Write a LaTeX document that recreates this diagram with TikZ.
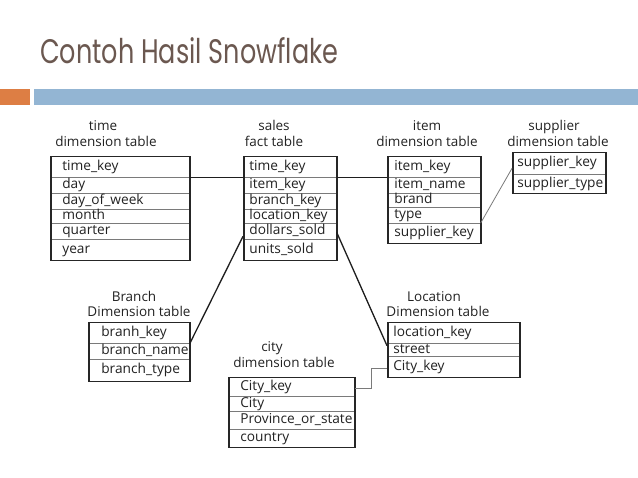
\documentclass[tikz,border=0pt]{standalone}
\usepackage{fontspec}
\setmainfont{Open Sans}
\newfontfamily\titlefont{Poppins}
\definecolor{titlecol}{HTML}{6B5850}
\definecolor{orangebar}{HTML}{DD7E44}
\definecolor{bluebar}{HTML}{93B5D3}
\definecolor{txtcol}{HTML}{222222}
\definecolor{divgray}{HTML}{7A7A7A}
\definecolor{boxcol}{HTML}{262626}
\definecolor{linecol}{HTML}{1E1E1E}
\tikzset{
  rowbox/.style={draw=divgray, line width=0.7pt, anchor=north west, inner ysep=0pt,
    align=left, text height=9.5pt, text depth=3pt,
    font=\fontsize{13.7}{15}\selectfont, text=txtcol},
  outerbox/.style={draw=boxcol, line width=1.5pt, inner sep=0pt, anchor=north west},
  hdr/.style={align=center, font=\fontsize{13.5}{15.5}\selectfont, text=txtcol, inner sep=0pt},
  link/.style={draw=linecol, line width=1.3pt},
  thinlink/.style={draw=divgray, line width=0.8pt}
}
\begin{document}
\begin{tikzpicture}[x=1pt,y=-1pt]
\useasboundingbox[fill=white] (0,0) rectangle (638,478);
% title and bar
\node[anchor=base west, inner sep=0pt, text=titlecol] (title) at (40,64)
  {\resizebox{298pt}{26pt}{\titlefont Contoh Hasil Snowflake}};
\fill[orangebar] (0,89) rectangle (30,105);
\fill[bluebar] (34,89) rectangle (638,105);

% ---------- time dimension table
\node[hdr] (thdr) at (106,133.5) {\hspace*{-6pt}time\\dimension table};
\node[rowbox, text width=115pt, inner xsep=12pt, minimum height=21pt] (t1) at (50,156) {time\_key};
\node[rowbox, text width=115pt, inner xsep=12pt, minimum height=16pt] (t2) at (50,177) {day};
\node[rowbox, text width=115pt, inner xsep=12pt, minimum height=16pt] (t3) at (50,193) {day\_of\_week};
\node[rowbox, text width=115pt, inner xsep=12pt, minimum height=14pt] (t4) at (50,209) {month};
\node[rowbox, text width=115pt, inner xsep=12pt, minimum height=16pt] (t5) at (50,223) {quarter};
\node[rowbox, text width=115pt, inner xsep=12pt, minimum height=21pt] (t6) at (50,239) {year};
\node[outerbox, minimum width=139pt, minimum height=104pt] (time) at (50,156) {};

% ---------- sales fact table
\node[hdr] (shdr) at (274,133.5) {sales\\fact table};
\node[rowbox, text width=81pt, inner xsep=6pt, minimum height=21pt] (s1) at (243,156) {time\_key};
\node[rowbox, text width=81pt, inner xsep=6pt, minimum height=16pt] (s2) at (243,177) {item\_key};
\node[rowbox, text width=81pt, inner xsep=6pt, minimum height=16pt] (s3) at (243,193) {branch\_key};
\node[rowbox, text width=81pt, inner xsep=6pt, minimum height=14pt] (s4) at (243,209) {location\_key};
\node[rowbox, text width=81pt, inner xsep=6pt, minimum height=16pt] (s5) at (243,223) {dollars\_sold};
\node[rowbox, text width=81pt, inner xsep=6pt, minimum height=21pt] (s6) at (243,239) {units\_sold};
\node[outerbox, minimum width=93pt, minimum height=104pt] (sales) at (243,156) {};

% ---------- item dimension table
\node[hdr] (ihdr) at (427,133.5) {item\\dimension table};
\node[rowbox, text width=79pt, inner xsep=7pt, minimum height=21pt] (i1) at (387,156) {item\_key};
\node[rowbox, text width=79pt, inner xsep=7pt, minimum height=16pt] (i2) at (387,177) {item\_name};
\node[rowbox, text width=79pt, inner xsep=7pt, minimum height=14pt] (i3) at (387,193) {brand};
\node[rowbox, text width=79pt, inner xsep=7pt, minimum height=16pt] (i4) at (387,207) {type};
\node[rowbox, text width=79pt, inner xsep=7pt, minimum height=20pt] (i5) at (387,223) {supplier\_key};
\node[outerbox, minimum width=93pt, minimum height=87pt] (item) at (387,156) {};

% ---------- supplier dimension table
\node[hdr] (suphdr) at (558,133.5) {\hspace*{-8pt}supplier\\dimension table};
\node[rowbox, text width=83pt, inner xsep=5pt, minimum height=22pt] (p1) at (512,152) {supplier\_key};
\node[rowbox, text width=83pt, inner xsep=5pt, minimum height=19pt] (p2) at (512,174) {supplier\_type};
\node[outerbox, minimum width=93pt, minimum height=41pt] (supplier) at (512,152) {};

% ---------- branch dimension table
\node[hdr] (bhdr) at (139,304) {\hspace*{-10pt}Branch\\Dimension table};
\node[rowbox, text width=75pt, inner xsep=13pt, minimum height=21pt] (b1) at (88,322) {branh\_key};
\node[rowbox, text width=75pt, inner xsep=13pt, minimum height=16pt] (b2) at (88,343) {branch\_name};
\node[rowbox, text width=75pt, inner xsep=13pt, minimum height=22pt] (b3) at (88,359) {branch\_type};
\node[outerbox, minimum width=101pt, minimum height=59pt] (branch) at (88,322) {};

% ---------- city dimension table
\node[hdr] (chdr) at (284,354.5) {\hspace*{-24pt}city\\dimension table};
\node[rowbox, text width=102pt, inner xsep=12pt, minimum height=19pt] (c1) at (228,377) {City\_key};
\node[rowbox, text width=102pt, inner xsep=12pt, minimum height=15pt] (c2) at (228,396) {City};
\node[rowbox, text width=102pt, inner xsep=12pt, minimum height=18pt] (c3) at (228,411) {Province\_or\_state};
\node[rowbox, text width=102pt, inner xsep=12pt, minimum height=18pt] (c4) at (228,429) {country};
\node[outerbox, minimum width=126pt, minimum height=70pt] (city) at (228,377) {};

% ---------- location dimension table
\node[hdr] (lhdr) at (438,304) {\hspace*{-8pt}Location\\Dimension table};
\node[rowbox, text width=120pt, inner xsep=6pt, minimum height=21pt] (l1) at (387,322) {location\_key};
\node[rowbox, text width=120pt, inner xsep=6pt, minimum height=13pt] (l2) at (387,343) {street};
\node[rowbox, text width=120pt, inner xsep=6pt, minimum height=21pt] (l3) at (387,356) {City\_key};
\node[outerbox, minimum width=132pt, minimum height=55pt] (location) at (387,322) {};

% ---------- connectors
\draw[link] (t1.south east) -- (s1.south west);
\draw[link] (s1.south east) -- (i1.south west);
\draw[link] ([yshift=-5pt]s5.west) -- (b1.south east);
\draw[link] ([yshift=-1pt]s5.east) -- ([yshift=-2pt]l1.south west);
\draw[thinlink] (i5.north east) -- ([yshift=-5pt]p1.west);
\draw[thinlink] ([yshift=-2pt]c1.east) -- ++(17,0) |- ([yshift=-1.5pt]l3.west);
\end{tikzpicture}
\end{document}
